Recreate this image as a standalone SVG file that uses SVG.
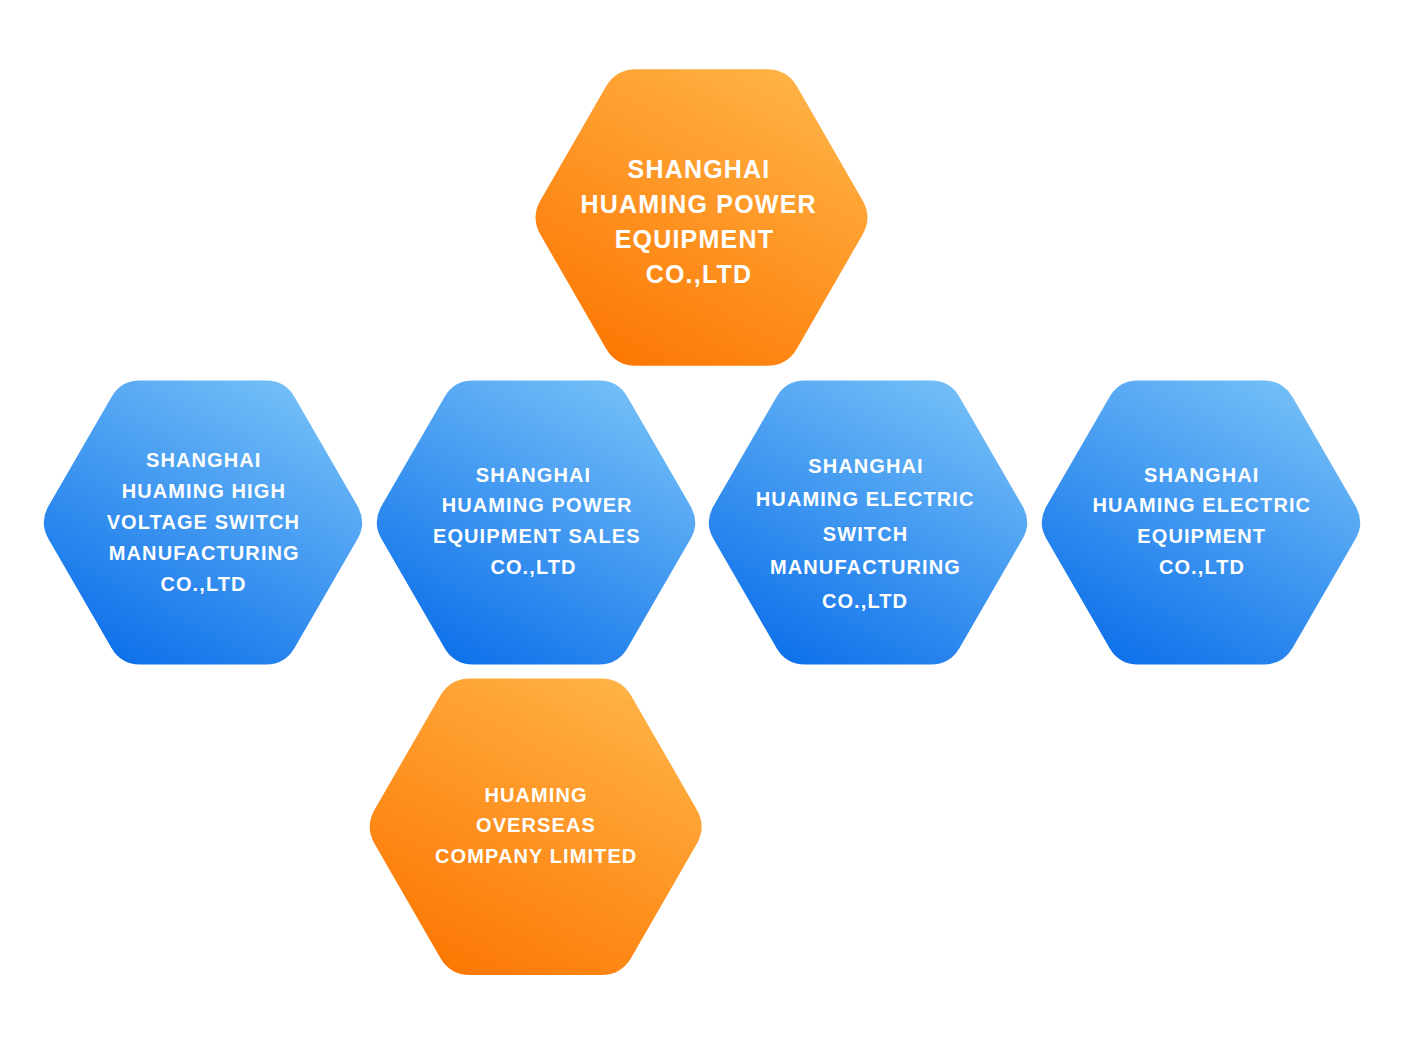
<svg xmlns="http://www.w3.org/2000/svg" xmlns:xlink="http://www.w3.org/1999/xlink" width="1405" height="1046" viewBox="0 0 1405 1046">
<style>
.t{font-family:"Liberation Sans",Arial,sans-serif;font-weight:bold;fill:#ffffff;text-anchor:middle}
.big{font-size:25px;letter-spacing:1.2px}
.sm{font-size:20px;letter-spacing:1.1px}
</style>
<defs>
<linearGradient id="gO" x1="0.2" y1="1" x2="0.8" y2="0">
<stop offset="0" stop-color="#FC7602"/>
<stop offset="1" stop-color="#FFB447"/>
</linearGradient>
<linearGradient id="gB" x1="0.2" y1="1" x2="0.8" y2="0">
<stop offset="0" stop-color="#0C6FEA"/>
<stop offset="1" stop-color="#75C0F7"/>
</linearGradient>
<path id="hexO" d="M -65.5,-148.3 L 65.5,-148.3 Q 85.5,-148.3 95.5,-130.98 L 161,-17.32 Q 171,0 161,17.32 L 95.5,130.98 Q 85.5,148.3 65.5,148.3 L -65.5,148.3 Q -85.5,148.3 -95.5,130.98 L -161,17.32 Q -171,0 -161,-17.32 L -95.5,-130.98 Q -85.5,-148.3 -65.5,-148.3 Z"/>
<path id="hexB" d="M -63,-142 L 63,-142 Q 82,-142 91.5,-125.55 L 154.5,-16.45 Q 164,0 154.5,16.45 L 91.5,125.55 Q 82,142 63,142 L -63,142 Q -82,142 -91.5,125.55 L -154.5,16.45 Q -164,0 -154.5,-16.45 L -91.5,-125.55 Q -82,-142 -63,-142 Z"/>
</defs>
<rect width="1405" height="1046" fill="#ffffff"/>
<g id="connectors"></g>
<g id="node-top">
<use href="#hexO" xlink:href="#hexO" transform="translate(701.5,217.5)" fill="url(#gO)"/>
<text class="t big" x="699" y="178.3">SHANGHAI</text>
<text class="t big" x="698.6" y="213.3">HUAMING POWER</text>
<text class="t big" x="694.4" y="248.3">EQUIPMENT</text>
<text class="t big" x="699" y="283.3">CO.,LTD</text>
</g>
<g id="node-b1">
<use href="#hexB" xlink:href="#hexB" transform="translate(203,522.5)" fill="url(#gB)"/>
<text class="t sm" x="203.8" y="466.7">SHANGHAI</text>
<text class="t sm" x="203.8" y="498">HUAMING HIGH</text>
<text class="t sm" x="203.4" y="529">VOLTAGE SWITCH</text>
<text class="t sm" x="204.3" y="560">MANUFACTURING</text>
<text class="t sm" x="203.5" y="590.5">CO.,LTD</text>
</g>
<g id="node-b2">
<use href="#hexB" xlink:href="#hexB" transform="translate(536,522.5)" fill="url(#gB)"/>
<text class="t sm" x="533.5" y="481.7">SHANGHAI</text>
<text class="t sm" x="537.2" y="512.3">HUAMING POWER</text>
<text class="t sm" x="536.8" y="543.3">EQUIPMENT SALES</text>
<text class="t sm" x="533.5" y="574">CO.,LTD</text>
</g>
<g id="node-b3">
<use href="#hexB" xlink:href="#hexB" transform="translate(868,522.5)" fill="url(#gB)"/>
<text class="t sm" x="866" y="472.7">SHANGHAI</text>
<text class="t sm" x="865.2" y="506">HUAMING ELECTRIC</text>
<text class="t sm" x="865.5" y="540.5">SWITCH</text>
<text class="t sm" x="865.5" y="573.5">MANUFACTURING</text>
<text class="t sm" x="865" y="607.5">CO.,LTD</text>
</g>
<g id="node-b4">
<use href="#hexB" xlink:href="#hexB" transform="translate(1201,522.5)" fill="url(#gB)"/>
<text class="t sm" x="1201.8" y="481.7">SHANGHAI</text>
<text class="t sm" x="1201.8" y="512.3">HUAMING ELECTRIC</text>
<text class="t sm" x="1201.7" y="543.3">EQUIPMENT</text>
<text class="t sm" x="1202" y="574">CO.,LTD</text>
</g>
<g id="node-bottom">
<use href="#hexO" xlink:href="#hexO" transform="translate(535.7,826.7)" fill="url(#gO)"/>
<text class="t sm" x="536" y="801.7">HUAMING</text>
<text class="t sm" x="536" y="832">OVERSEAS</text>
<text class="t sm" x="536.2" y="862.5">COMPANY LIMITED</text>
</g>
</svg>
